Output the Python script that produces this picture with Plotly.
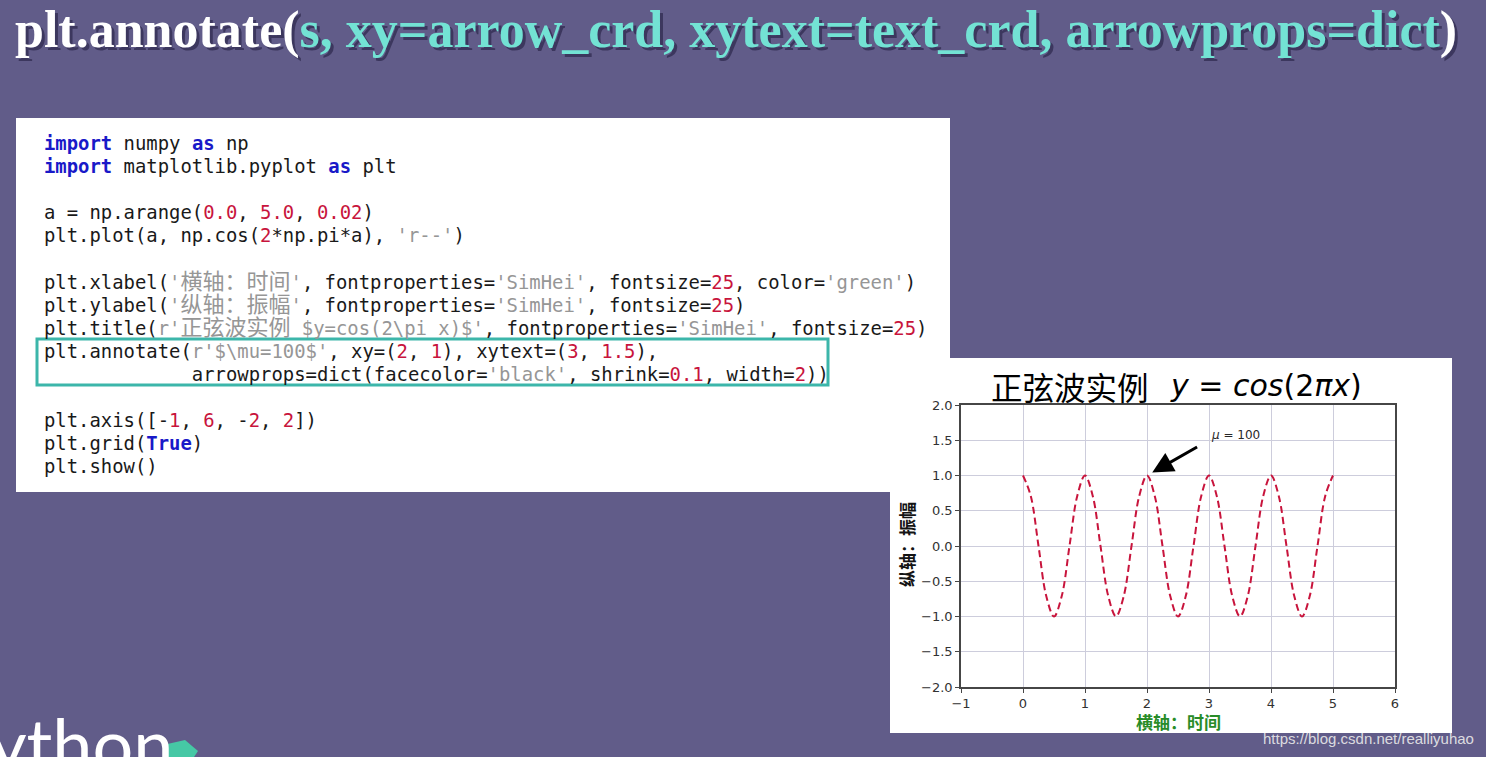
import re
import plotly.graph_objects as go

W, H = 1486, 757

# curve (peaks, troughs, crossings, eighth points)
time = [0, 0.125, 0.25, 0.375, 0.5, 0.625, 0.75, 0.875,
        1, 1.125, 1.25, 1.375, 1.5, 1.625, 1.75, 1.875,
        2, 2.125, 2.25, 2.375, 2.5, 2.625, 2.75, 2.875,
        3, 3.125, 3.25, 3.375, 3.5, 3.625, 3.75, 3.875,
        4, 4.125, 4.25, 4.375, 4.5, 4.625, 4.75, 4.875, 5]
amplitude = [1, 0.71, 0, -0.71, -1, -0.71, 0, 0.71,
             1, 0.71, 0, -0.71, -1, -0.71, 0, 0.71,
             1, 0.71, 0, -0.71, -1, -0.71, 0, 0.71,
             1, 0.71, 0, -0.71, -1, -0.71, 0, 0.71,
             1, 0.71, 0, -0.71, -1, -0.71, 0, 0.71, 1]

x_range = [-1, 6]
y_range = [-2, 2]
arrow_xy = (2, 1)
text_xy = (3, 1.5)

KW = "rgb(25,25,200)"
NUM = "rgb(200,20,60)"
STR = "rgb(150,150,150)"


def kw(s):
    return '<span style="color:%s"><b>%s</b></span>' % (KW, s)


def num(s):
    return '<span style="color:%s">%s</span>' % (NUM, s)


def st(s):
    return '<span style="color:%s">%s</span>' % (STR, s)


code_lines = [
    kw("import") + " numpy " + kw("as") + " np",
    kw("import") + " matplotlib.pyplot " + kw("as") + " plt",
    "",
    "a = np.arange(" + num("0.0") + ", " + num("5.0") + ", " + num("0.02") + ")",
    "plt.plot(a, np.cos(" + num("2") + "*np.pi*a), " + st("'r--'") + ")",
    "",
    "plt.xlabel(" + st("'横轴：时间'") + ", fontproperties=" + st("'SimHei'")
    + ", fontsize=" + num("25") + ", color=" + st("'green'") + ")",
    "plt.ylabel(" + st("'纵轴：振幅'") + ", fontproperties=" + st("'SimHei'")
    + ", fontsize=" + num("25") + ")",
    "plt.title(" + st("r'正弦波实例 $y=cos(2\\pi x)$'") + ", fontproperties="
    + st("'SimHei'") + ", fontsize=" + num("25") + ")",
    "plt.annotate(" + st("r'$\\mu=100$'") + ", xy=(" + num("2") + ", " + num("1")
    + "), xytext=(" + num("3") + ", " + num("1.5") + "),",
    "             arrowprops=dict(facecolor=" + st("'black'") + ", shrink="
    + num("0.1") + ", width=" + num("2") + "))",
    "",
    "plt.axis([-" + num("1") + ", " + num("6") + ", -" + num("2") + ", " + num("2") + "])",
    "plt.grid(" + kw("True") + ")",
    "plt.show()",
]


def px(x):
    return x / W


def py(y):
    return 1 - y / H


def keep_spaces(line):
    # non-breaking spaces outside of tags, so the indents survive
    parts = re.split(r"(<[^>]+>)", line)
    out = []
    for p in parts:
        if not p.startswith("<"):
            p = p.replace(" ", "\u00a0")
            p = re.sub(r"([\u4e00-\u9fff\uff1a]+)", r'<span style="font-size:22px">\1</span>', p)
        out.append(p)
    return "".join(out)


fig = go.Figure()

fig.add_trace(go.Scatter(
    x=time, y=amplitude, mode="lines",
    line=dict(color="rgb(200,20,60)", width=2, dash="7px,4px", shape="spline"),
    showlegend=False, hoverinfo="skip"))

shapes = []
# code panel, then chart panel on top of it
shapes.append(dict(type="rect", xref="paper", yref="paper", layer="below",
                   x0=px(16), x1=px(950), y0=py(492), y1=py(118),
                   fillcolor="white", line=dict(width=0)))
shapes.append(dict(type="rect", xref="paper", yref="paper",
                   x0=px(37), x1=px(828), y0=py(385), y1=py(339),
                   fillcolor="rgba(0,0,0,0)", line=dict(color="rgb(60,182,170)", width=3)))
shapes.append(dict(type="rect", xref="paper", yref="paper", layer="below",
                   x0=px(890), x1=px(1452), y0=py(733), y1=py(358),
                   fillcolor="white", line=dict(width=0)))
# teal logo mark
pts = [(163, 745), (185, 740), (198, 751), (192, 760), (168, 760)]
path = "M " + " L ".join("%f %f" % (px(a), py(b)) for a, b in pts) + " Z"
shapes.append(dict(type="path", xref="paper", yref="paper", path=path,
                   fillcolor="rgb(70,200,165)", line=dict(width=0)))

ann = []
title_plain = "plt.annotate(s, xy=arrow_crd, xytext=text_crd, arrowprops=dict)"
title_rich = ('plt.annotate(<span style="color:rgb(115,226,212)">s, xy=arrow_crd, '
              'xytext=text_crd, arrowprops=dict</span>)')
ann.append(dict(text="<b>%s</b>" % title_plain, xref="paper", yref="paper",
                x=px(16), y=py(33), xanchor="left", yanchor="middle", showarrow=False,
                font=dict(family="Liberation Serif", size=52, color="rgba(35,30,65,0.6)")))
ann.append(dict(text="<b>%s</b>" % title_rich, xref="paper", yref="paper",
                x=px(13), y=py(30), xanchor="left", yanchor="middle", showarrow=False,
                font=dict(family="Liberation Serif", size=52, color="white")))

for i, line in enumerate(code_lines):
    if not line:
        continue
    ann.append(dict(text=keep_spaces(line), xref="paper", yref="paper",
                    x=px(42), y=py(143 + 23.1 * i), xanchor="left", yanchor="middle",
                    showarrow=False,
                    font=dict(family="DejaVu Sans Mono, Noto Sans CJK SC", size=18.9,
                              color="rgb(25,25,25)")))

ann.append(dict(text="正弦波实例", xref="paper", yref="paper", x=px(1151), y=py(386),
                xanchor="right", yanchor="middle", showarrow=False,
                font=dict(family="Noto Sans CJK SC", size=31.5, color="black")))
ann.append(dict(text="<i>y</i> = <i>cos</i>(2<i>πx</i>)", xref="paper", yref="paper",
                x=px(1168), y=py(386), xanchor="left", yanchor="middle", showarrow=False,
                font=dict(family="DejaVu Sans", size=30, color="black")))
ann.append(dict(text="<b>横轴：时间</b>", xref="paper", yref="paper",
                x=px(1178), y=py(721), xanchor="center", yanchor="middle", showarrow=False,
                font=dict(family="Noto Sans CJK SC", size=17, color="rgb(40,140,40)")))
ann.append(dict(text="<b>纵轴：振幅</b>", xref="paper", yref="paper",
                x=px(906), y=py(545), xanchor="center", yanchor="middle", showarrow=False,
                textangle=-90,
                font=dict(family="Noto Sans CJK SC", size=17, color="rgb(20,20,20)")))
ann.append(dict(text="<i>μ</i> = 100", x=text_xy[0], y=text_xy[1], xref="x", yref="y",
                xanchor="left", yanchor="bottom", showarrow=False, yshift=-4,
                font=dict(family="DejaVu Sans", size=12, color="rgb(40,40,40)")))
ann.append(dict(text="", x=arrow_xy[0], y=arrow_xy[1], ax=text_xy[0], ay=text_xy[1],
                xref="x", yref="y", axref="x", ayref="y", showarrow=True,
                arrowhead=2, arrowsize=1.4, arrowwidth=3, arrowcolor="black",
                standoff=6, startstandoff=12))

ann.append(dict(text="python", xref="paper", yref="paper", x=px(-52), y=py(698),
                xanchor="left", yanchor="top", showarrow=False,
                font=dict(family="Lato", size=72, color="white")))
ann.append(dict(text="https://blog.csdn.net/realliyuhao", xref="paper", yref="paper",
                x=px(1476), y=py(738), xanchor="right", yanchor="middle", showarrow=False,
                font=dict(family="Liberation Sans", size=15, color="rgba(235,235,235,0.9)")))

axis_common = dict(showgrid=True, gridcolor="rgb(205,205,220)", gridwidth=1,
                   showline=True, mirror=True, linecolor="rgb(70,70,70)", linewidth=1.5,
                   ticks="outside", ticklen=4, tickcolor="rgb(70,70,70)", zeroline=False,
                   automargin=False,
                   tickfont=dict(family="DejaVu Sans", size=13, color="rgb(50,50,50)"))

fig.update_layout(
    width=W, height=H, margin=dict(l=0, r=0, t=0, b=0, autoexpand=False),
    paper_bgcolor="rgb(97,92,137)", plot_bgcolor="rgba(0,0,0,0)",
    xaxis=dict(range=x_range, dtick=1, domain=[px(961), px(1395)], **axis_common),
    yaxis=dict(range=y_range, dtick=0.5, tickformat=".1f",
               domain=[py(687), py(405)], **axis_common),
    shapes=shapes, annotations=ann,
)

fig.write_html("out.html", config={"displayModeBar": False},
               post_script="document.body.style.margin='0';"
                           "document.body.style.overflow='hidden';")
